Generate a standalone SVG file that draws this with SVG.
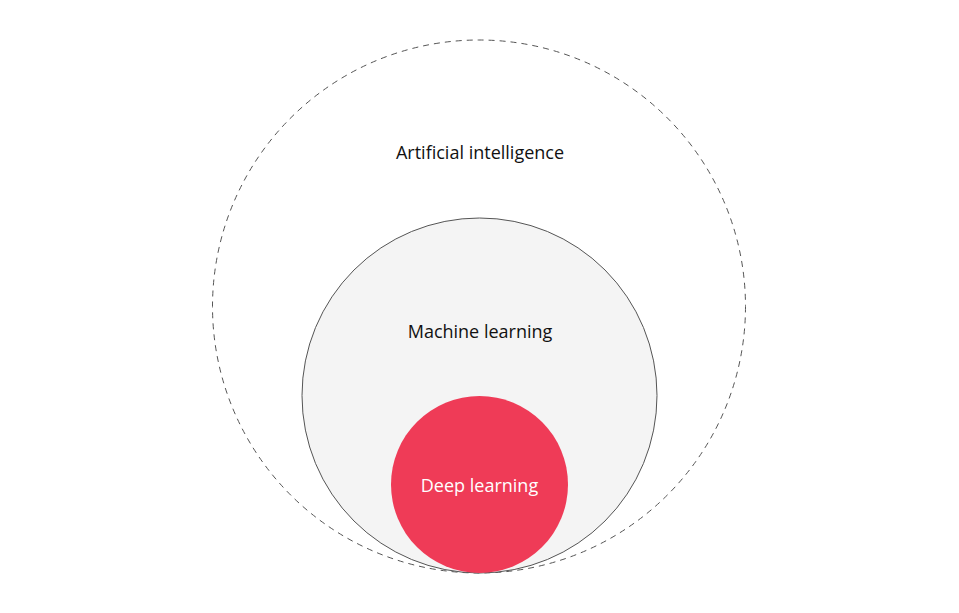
<svg xmlns="http://www.w3.org/2000/svg" width="959" height="613" viewBox="0 0 959 613">
<style>
text{font-family:"Open Sans","Liberation Sans",sans-serif;font-size:18px;text-anchor:middle;dominant-baseline:middle}
</style>
<rect width="959" height="613" fill="#fff"/>
<g id="ai"><circle cx="479" cy="306.5" r="266.5" fill="none" stroke="#555" stroke-width="1" stroke-dasharray="6,5"/>
<text x="480" y="154" fill="#111">Artificial intelligence</text></g>
<g id="ml"><circle cx="479.5" cy="395.5" r="177.5" fill="#f4f4f4" stroke="#555" stroke-width="1"/>
<text x="480" y="333" fill="#111">Machine learning</text></g>
<g id="dl"><circle cx="479.5" cy="484.5" r="88.5" fill="#ef3b57"/>
<text x="479.5" y="487" fill="#fff">Deep learning</text></g>
<g id="connectors"/>
</svg>
